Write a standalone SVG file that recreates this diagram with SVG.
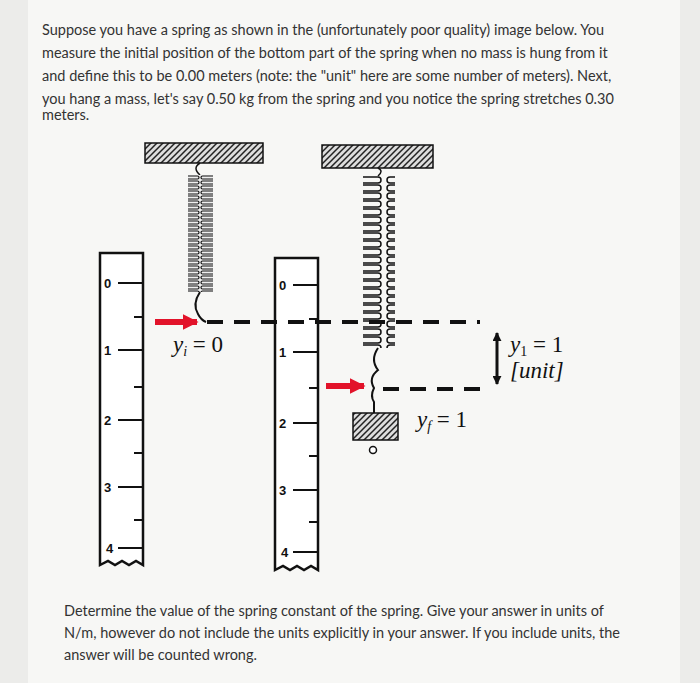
<svg xmlns="http://www.w3.org/2000/svg" width="700" height="683" viewBox="0 0 700 683">
<defs>
<pattern id="hatch" width="6" height="6" patternUnits="userSpaceOnUse"><rect width="6" height="6" fill="#ddd"/><path d="M0 6L6 0M-1 1L1 -1M5 7L7 5" stroke="#222" stroke-width="1.5"/></pattern>
<pattern id="coil" width="25" height="5" patternUnits="userSpaceOnUse"><rect width="25" height="5" fill="#eee"/><rect x="1" y="1" width="23" height="3" rx="1.5" fill="none" stroke="#111" stroke-width="1.2"/></pattern>
<pattern id="coil2" width="32" height="8" patternUnits="userSpaceOnUse"><rect x="3" y="1" width="26" height="6" rx="3" fill="none" stroke="#111" stroke-width="1.5"/></pattern>
<marker id="ah" viewBox="0 0 10 10" refX="9" refY="5" markerWidth="3" markerHeight="3" orient="auto-start-reverse"><path d="M0 0L10 5L0 10z" fill="#111"/></marker>
<marker id="red" viewBox="0 0 10 10" refX="9" refY="5" markerWidth="2.6" markerHeight="2.6" orient="auto"><path d="M0 0L10 5L0 10z" fill="#e2132a"/></marker>
</defs>
<style>
.t{font-family:"Lato","Open Sans",sans-serif;font-size:14.5px;fill:#333}
.r{fill:#fff;stroke:#111;stroke-width:2.5}
.tk{stroke:#111;stroke-width:2}
.n{font-family:"Liberation Sans",sans-serif;font-size:13px;fill:#111;font-weight:bold}
.m{font-family:"Liberation Serif",serif;font-size:23px;fill:#111}
.d{stroke:#111;stroke-width:4;stroke-dasharray:16 11}
</style>
<rect width="700" height="683" fill="#ececea"/>
<rect x="28" y="0" width="652" height="683" fill="#f7f7f5"/>
<g id="question">
<text class="t" x="42" y="35">Suppose you have a spring as shown in the (unfortunately poor quality) image below. You</text>
<text class="t" x="42" y="58">measure the initial position of the bottom part of the spring when no mass is hung from it</text>
<text class="t" x="42" y="81">and define this to be 0.00 meters (note: the "unit" here are some number of meters). Next,</text>
<text class="t" x="42" y="104">you hang a mass, let's say 0.50 kg from the spring and you notice the spring stretches 0.30</text>
<text class="t" x="42" y="120">meters.</text>
</g>
<g id="ruler-left">
<path class="r" d="M100 253H143V565l-7-4-7 4-7-4-7 4-7-4-8 4z"/>
<g class="tk"><path d="M118 283H143M134 317H143M118 350H143M134 387H143M118 420H143M134 453H143M118 487H143M134 520H143M118 548H143"/></g>
<text class="n" x="104" y="288">0</text><text class="n" x="104" y="355">1</text><text class="n" x="104" y="425">2</text><text class="n" x="104" y="492">3</text><text class="n" x="106" y="553">4</text>
</g>
<g id="ruler-right">
<path class="r" d="M275 258H318V570l-7-4-7 4-7-4-7 4-7-4-8 4z"/>
<g class="tk"><path d="M293 285H318M309 319H318M293 352H318M309 388H318M293 423H318M309 456H318M293 490H318M309 522H318M293 552H318"/></g>
<text class="n" x="279" y="290">0</text><text class="n" x="279" y="357">1</text><text class="n" x="279" y="428">2</text><text class="n" x="279" y="495">3</text><text class="n" x="281" y="557">4</text>
</g>
<g id="spring-left">
<rect x="145" y="143" width="118" height="20" fill="url(#hatch)" stroke="#111" stroke-width="1.5"/>
<path d="M200 163q-8 5 0 12" fill="none" stroke="#111" stroke-width="1.5"/>
<rect x="188" y="175" width="25" height="117" fill="url(#coil)"/>
<path d="M200 292q-8 12 -2 22q3 6 8 8" fill="none" stroke="#111" stroke-width="2"/>
</g>
<g id="spring-right">
<rect x="322" y="145" width="111" height="23" fill="url(#hatch)" stroke="#111" stroke-width="1.5"/>
<path d="M378 168q6 3 0 8" fill="none" stroke="#111" stroke-width="1.5"/>
<rect x="363" y="176" width="32" height="172" fill="url(#coil2)"/>
<path d="M378 348q-8 12 0 22q-10 8 -4 18q-4 8 0 14v11" fill="none" stroke="#111" stroke-width="2"/>
<rect x="353" y="413" width="45" height="27" fill="url(#hatch)" stroke="#111" stroke-width="1.5"/>
<circle cx="373" cy="450" r="3.5" fill="#fff" stroke="#111" stroke-width="1.5"/>
</g>
<g id="connectors">
<path class="d" d="M207 322H480"/>
<path class="d" d="M383 389H480"/>
<path d="M155 322H197" stroke="#e2132a" stroke-width="6" marker-end="url(#red)"/>
<path d="M326 386H364" stroke="#e2132a" stroke-width="6" marker-end="url(#red)"/>
<path d="M497 333V384" stroke="#111" stroke-width="3" marker-start="url(#ah)" marker-end="url(#ah)"/>
</g>
<g id="labels">
<text class="m" x="173" y="352" font-style="italic">y<tspan font-size="14" dy="4">i</tspan><tspan dy="-4" font-style="normal"> = 0</tspan></text>
<text class="m" x="510" y="352" font-style="italic">y<tspan font-size="14" dy="4" font-style="normal">1</tspan><tspan dy="-4" font-style="normal"> = 1</tspan></text>
<text class="m" x="510" y="378" font-style="italic">[unit]</text>
<text class="m" x="417" y="427" font-style="italic">y<tspan font-size="14" dy="4">f</tspan><tspan dy="-4" font-style="normal"> = 1</tspan></text>
</g>
<g id="answer">
<text class="t" x="64" y="616" font-size="13">Determine the value of the spring constant of the spring.  Give your answer in units of</text>
<text class="t" x="64" y="638" font-size="13">N/m, however do not include the units explicitly in your answer.  If you include units, the</text>
<text class="t" x="64" y="660" font-size="13">answer will be counted wrong.</text>
</g>
</svg>
